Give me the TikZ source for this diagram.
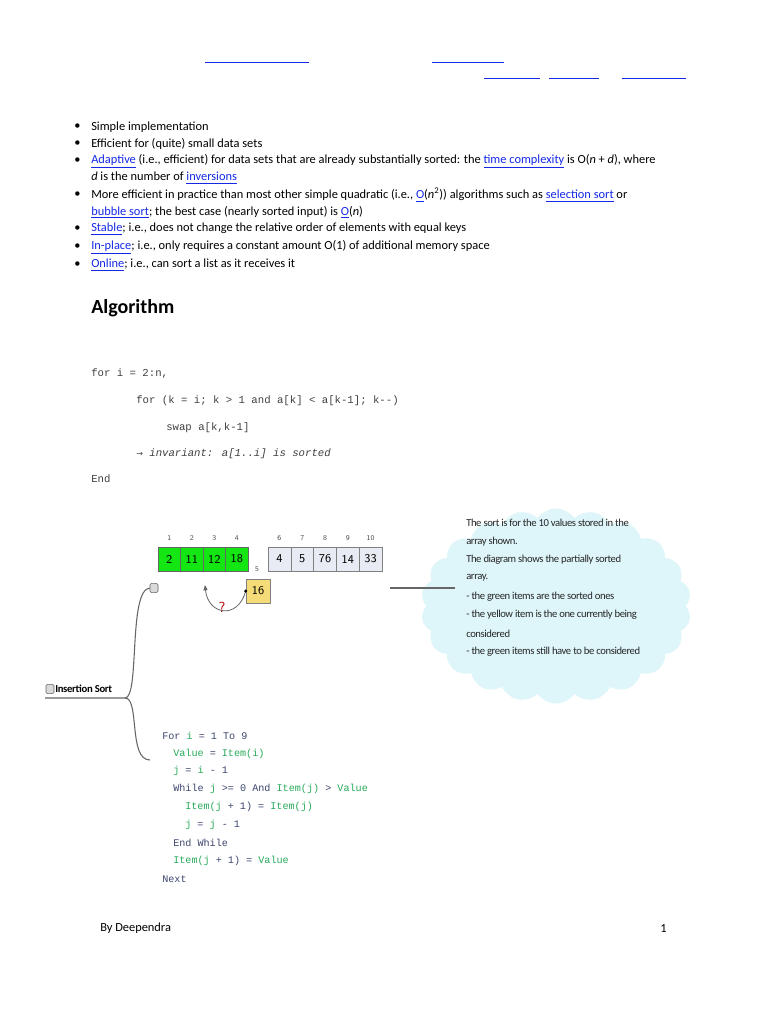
\documentclass[tikz,border=0pt]{standalone}
\usepackage{fontspec}
\setmainfont{Carlito}
\newfontfamily\codefont{Liberation Mono}
\usetikzlibrary{shapes.symbols,arrows.meta}
\definecolor{lnk}{RGB}{20,40,230}
\definecolor{kw}{RGB}{60,70,110}
\definecolor{idg}{RGB}{40,170,90}
\definecolor{gcell}{RGB}{20,230,20}
\definecolor{pcell}{RGB}{232,234,244}
\definecolor{ycell}{RGB}{245,220,120}
\definecolor{cloudc}{RGB}{222,246,250}
\tikzset{
 txt/.style={anchor=west,inner sep=0,font=\fontsize{9.3pt}{11pt}\selectfont},
 code/.style={anchor=west,inner sep=0,font=\codefont\fontsize{8pt}{10pt}\selectfont,text=black!75},
 vb/.style={anchor=west,inner sep=0,font=\codefont\fontsize{7.6pt}{9pt}\selectfont,text=kw},
 ctext/.style={anchor=west,inner sep=0,font=\fontsize{8pt}{9pt}\selectfont\addfontfeature{LetterSpace=-4},text=black!85},
 link/.style={draw=lnk,line width=0.6pt},
 cellg/.style={draw=black!60,fill=gcell,minimum width=16.9pt,minimum height=18pt,inner sep=0,font=\sffamily\fontsize{9pt}{10pt}\selectfont},
 cellp/.style={draw=black!50,fill=pcell,minimum width=17.1pt,minimum height=18pt,inner sep=0,font=\sffamily\fontsize{9pt}{10pt}\selectfont},
 idx/.style={inner sep=0,font=\sffamily\fontsize{5.5pt}{6pt}\selectfont,text=black!70},
}
\newcommand{\lk}[1]{\textcolor{lnk}{\underline{#1}}}
\newcommand{\gi}[1]{\textcolor{idg}{#1}}
\begin{document}
\begin{tikzpicture}[x=0.75pt,y=-0.75pt]
\useasboundingbox[fill=white] (0,0) rectangle (768,1024);
% top link underlines
\draw[link] (205,62) -- (309,62);
\draw[link] (432,62) -- (504,62);
\draw[link] (484,78) -- (540,78);
\draw[link] (549,78) -- (599,78);
\draw[link] (622,78) -- (686,78);
% bullets
\foreach \y in {127,144,161,195,229,247,265} \node[txt] at (74,\y) {•};
\node[txt] (b1) at (91,127) {Simple implementation};
\node[txt] (b2) at (91,144) {Efficient for (quite) small data sets};
\node[txt] (b3) at (91,161) {\lk{Adaptive} (i.e., efficient) for data sets that are already substantially sorted: the \lk{time complexity} is O(\textit{n} + \textit{d}), where};
\node[txt] (b3b) at (91,178) {\textit{d} is the number of \lk{inversions}};
\node[txt] (b4) at (91,195) {More efficient in practice than most other simple quadratic (i.e., \lk{O}(\textit{n}\textsuperscript{2})) algorithms such as \lk{selection sort} or};
\node[txt] (b4b) at (91,212) {\lk{bubble sort}; the best case (nearly sorted input) is \lk{O}(\textit{n})};
\node[txt] (b5) at (91,229) {\lk{Stable}; i.e., does not change the relative order of elements with equal keys};
\node[txt] (b6) at (91,247) {\lk{In-place}; i.e., only requires a constant amount O(1) of additional memory space};
\node[txt] (b7) at (91,265) {\lk{Online}; i.e., can sort a list as it receives it};
\node[anchor=west,inner sep=0,font=\bfseries\fontsize{15pt}{18pt}\selectfont] (alg) at (91,308) {Algorithm};
% code
\node[code] (c1) at (91,374) {for i = 2:n,};
\node[code] (c2) at (136,401) {for (k = i; k > 1 and a[k] < a[k-1]; k--)};
\node[code] (c3) at (166,428) {swap a[k,k-1]};
\node[code] (c4) at (136,454) {{\fontspec{DejaVu Sans}\fontsize{6pt}{8pt}\selectfont →} \textit{invariant: a[1..i] is sorted}};
\node[code] (c5) at (91,479) {End};
% cloud
\node[cloud,cloud puffs=22,cloud puff arc=110,aspect=1.4,fill=cloudc,draw=none,minimum width=270pt*0.75,minimum height=195pt*0.75] (cl) at (556,606) {};
\foreach \t [count=\i from 0] in {The sort is for the 10 values stored in the,array shown.,The diagram shows the partially sorted,array.,- the green items are the sorted ones,- the yellow item is the one currently being,considered,- the green items still have to be considered}
  \node[ctext] at (466,523+18.4*\i) {\t};
\coordinate (ls) at (390,588);
\coordinate (le) at (455,588);
\draw[black!60,line width=1.2pt] (ls) -- (le);
% array
\foreach \v [count=\i] in {2,11,12,18} {
  \node[cellg] (g\i) at (158+22.5*\i-11.25,559) {\v};
  \node[idx] at (158+22.5*\i-11.25,538) {\i};
}
\foreach \v [count=\i] in {4,5,76,14,33} {
  \pgfmathtruncatemacro{\k}{\i+5}
  \node[cellp] (p\i) at (268+22.8*\i-11.4,559) {\v};
  \node[idx] at (268+22.8*\i-11.4,538) {\k};
}
\node[idx] at (257,569) {5};
\node[draw=black!50,fill=ycell,minimum width=18pt,minimum height=18pt,inner sep=0,font=\sffamily\fontsize{9pt}{10pt}\selectfont] (y) at (258,591) {16};
\coordinate (ae) at (205,585);
\draw[black!60,line width=0.6pt,-{Triangle[length=4pt,width=3pt]}] (y.west) .. controls (238,620) and (208,615) .. (ae);
\fill (y.west) circle (1.3pt);
\node[text=red!70!black,font=\sffamily\fontsize{11pt}{12pt}\selectfont] (q) at (222,607) {?};
% mind map
\node[draw=black!60,fill=black!15,rounded corners=1pt,minimum width=6pt,minimum height=7pt,inner sep=0] (ic1) at (154,588) {};
\node[draw=black!60,fill=black!15,rounded corners=1pt,minimum width=6pt,minimum height=7pt,inner sep=0] (ic2) at (50,689) {};
\node[anchor=west,inner sep=0,font=\bfseries\fontsize{8pt}{9pt}\selectfont\addfontfeature{LetterSpace=-3}] (is) at (55,689) {Insertion Sort};
\coordinate (r0) at (45,698);
\coordinate (r1) at (125,698);
\coordinate (r2) at (150,760);
\draw[black!60,line width=0.8pt] (r0) -- (r1) .. controls (140,698) and (128,590) .. (ic1.west);
\draw[black!60,line width=0.8pt] (r1) .. controls (140,698) and (128,760) .. (r2);
% VB code
\node[vb] at (162,736) {For \gi{i} = 1 To 9};
\node[vb] at (173,754) {\gi{Value} = \gi{Item(i)}};
\node[vb] at (173,771) {\gi{j} = \gi{i} - 1};
\node[vb] at (173,789) {While \gi{j} >= 0 And \gi{Item(j)} > \gi{Value}};
\node[vb] at (185,807) {\gi{Item(j} + 1) = \gi{Item(j)}};
\node[vb] at (185,825) {\gi{j} = \gi{j} - 1};
\node[vb] at (173,843) {End While};
\node[vb] at (173,861) {\gi{Item(j} + 1) = \gi{Value}};
\node[vb] at (162,879) {Next};
% footer
\node[txt] (f1) at (100,928) {By Deependra};
\node[txt] (f2) at (660,928) {1};
\end{tikzpicture}
\end{document}
